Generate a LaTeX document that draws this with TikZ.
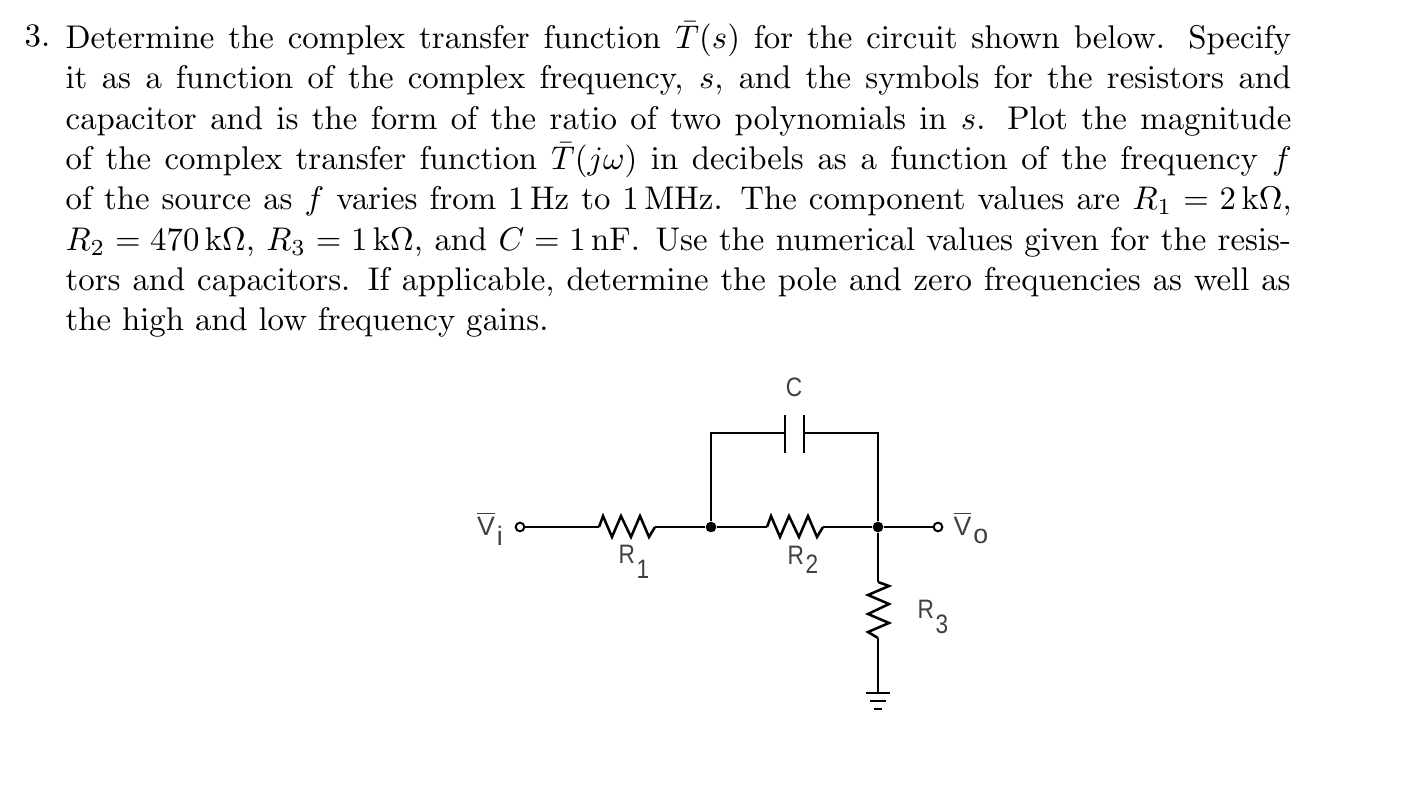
\documentclass[tikz,border=0pt]{standalone}
\usepackage{amsmath}
\usepackage[no-math]{fontspec}
\newfontfamily\labelfont{Liberation Sans}
\usepackage{tikz}
\usetikzlibrary{calc,positioning}
\newcommand{\complabel}[3]{#1\kern1.5pt\raisebox{-#3}{#2}}
\newcommand{\barV}{$\overline{\mbox{V}}$}
\newcommand{\cmtext}{\fontencoding{OT1}\fontfamily{cmr}\fontsize{10}{12.3}\selectfont}
\tikzset{
  wire/.style={line width=1.9pt, line join=miter},
  para/.style={anchor=north west, inner sep=0pt, scale=2.46, align=justify, text width=373.8pt, font=\cmtext},
  lbl/.style={inner sep=0pt, text=black!75, xscale=0.85, font=\labelfont\fontsize{20}{20}\selectfont},
  junction/.style={circle, fill=black, inner sep=0pt, minimum size=8pt},
  terminal/.style={circle, draw, fill=white, line width=1.5pt, inner sep=0pt, minimum size=6.5pt},
  resistor/.pic={
    \draw[wire] (0,0) -- (4,-11) -- (13,10) -- (22,-11) -- (32,10) -- (41,-11) -- (50,10) -- (56,0);
    \coordinate (-in) at (0,0);
    \coordinate (-out) at (56,0);
  }
}
\begin{document}
\begin{tikzpicture}[x=0.75pt, y=-0.75pt]
  \useasboundingbox (0,0) rectangle (1422,804);
  % problem text
  \node[para, text width=20pt, align=left] (num) at (24,25) {3.};
  \node[para] (problem) at (65,21) {Determine the complex transfer function $\bar T(s)$ for the circuit shown below.  Specify
    it as a function of the complex frequency, $s$, and the symbols for the resistors and
    capacitor and is the form of the ratio of two polynomials in $s$.  Plot the magnitude
    of the complex transfer function $\bar T(j\omega)$ in decibels as a function of the frequency $f$
    of the source as $f$ varies from 1\,Hz to 1\,MHz.  The component values are $R_1=2\,\mathrm{k\Omega}$,\linebreak
    $R_2=470\,\mathrm{k\Omega}$, $R_3=1\,\mathrm{k\Omega}$, and $C=1\,\mathrm{nF}$.  Use the numerical values given for the resis-\linebreak
    tors and capacitors.  If applicable, determine the pole and zero frequencies as well as\linebreak
    the high and low frequency gains.};

  % circuit
  \node[terminal] (vin) at (520,527) {};
  \node[junction] (nodea) at (711,527) {};
  \node[junction] (nodeb) at (878,527) {};
  \node[terminal] (vout) at (938,527) {};
  \coordinate (capl) at (711,433);
  \coordinate (capr) at (878,433);
  \coordinate (plateltop) at (785,415);
  \coordinate (platelbot) at (785,453);
  \coordinate (platertop) at (804,415);
  \coordinate (platerbot) at (804,453);
  \coordinate (platel) at (785,433);
  \coordinate (plater) at (804,433);
  \pic (rone) at (599,527) {resistor};
  \pic (rtwo) at (767,527) {resistor};
  \pic[rotate=-90] (rthree) at (878,582) {resistor};
  \coordinate (gnd) at (878,693);

  \draw[wire] (vin) -- (rone-in);
  \draw[wire] (rone-out) -- (nodea);
  \draw[wire] (nodea) -- (rtwo-in);
  \draw[wire] (rtwo-out) -- (nodeb);
  \draw[wire] (nodeb) -- (vout);
  \draw[wire] (nodeb) -- (rthree-in);
  \draw[wire] (rthree-out) -- (gnd);
  \draw[wire] (nodea) -- (capl) -- (platel);
  \draw[wire] (nodeb) -- (capr) -- (plater);
  \draw[wire] (plateltop) -- (platelbot);
  \draw[wire] (platertop) -- (platerbot);
  % ground
  \draw[wire] ($(gnd)+(-12,0)$) -- ($(gnd)+(12,0)$);
  \draw[wire] ($(gnd)+(-8,8)$) -- ($(gnd)+(8,8)$);
  \draw[wire] ($(gnd)+(-4,16)$) -- ($(gnd)+(4,16)$);

  % labels
  \node[lbl] (lc) at (794,387) {C};
  \node[lbl] (lr1) at (634,562) {\complabel{R}{1}{11pt}};
  \node[lbl] (lr2) at (803,560) {\complabel{R}{2}{7pt}};
  \node[lbl] (lr3) at (933,617) {\complabel{R}{3}{11pt}};
  \node[lbl, xscale=1.18] (lvi) at (490,529) {\complabel{\barV}{i}{7.5pt}};
  \node[lbl, xscale=1.18] (lvo) at (971,528) {\complabel{\barV}{o}{6pt}};
\end{tikzpicture}
\end{document}
